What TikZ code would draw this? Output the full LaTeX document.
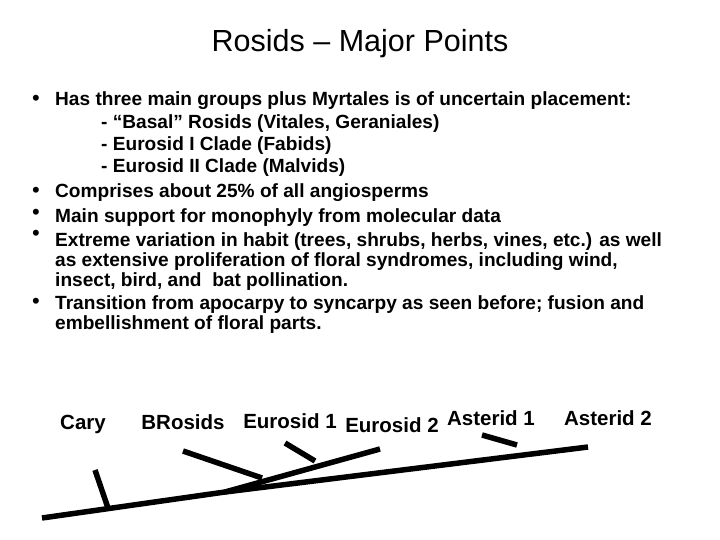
\documentclass[tikz,border=0pt]{standalone}
\usepackage{fontspec}
\setmainfont{Liberation Sans}
\begin{document}
\begin{tikzpicture}[x=1pt,y=-1pt,
  txt/.style={anchor=west,inner sep=0pt,font=\bfseries\fontsize{19.1}{22}\selectfont},
  bul/.style={anchor=center,inner sep=0pt,font=\fontsize{22}{24}\selectfont},
  lab/.style={anchor=center,inner sep=0pt,font=\bfseries\fontsize{20.5}{23}\selectfont},
  br/.style={line width=5.5pt}]
\useasboundingbox (0,0) rectangle (720,540);
\node[inner sep=0pt,font=\fontsize{30.5}{34}\selectfont] (title) at (360,44) {Rosids – Major Points};
\node[txt] (l1) at (55,101) {Has three main groups plus Myrtales is of uncertain placement:};
\node[txt] (l2) at (101,124) {- “Basal” Rosids (Vitales, Geraniales)};
\node[txt] (l3) at (101,146) {- Eurosid I Clade (Fabids)};
\node[txt] (l4) at (101,168) {- Eurosid II Clade (Malvids)};
\node[txt] (l5) at (55,193) {Comprises about 25\% of all angiosperms};
\node[txt] (l6) at (55,218) {Main support for monophyly from molecular data};
\node[txt] (l7) at (55,242) {Extreme variation in habit (trees, shrubs, herbs, vines, etc.) as well};
\node[txt] (l8) at (55,262) {as extensive proliferation of floral syndromes, including wind,};
\node[txt] (l9) at (55,282) {insect, bird, and\ \ bat pollination.};
\node[txt] (l10) at (55,305) {Transition from apocarpy to syncarpy as seen before; fusion and};
\node[txt] (l11) at (55,325) {embellishment of floral parts.};
\foreach \y/\n in {100/a,192/b,214/c,235/d,303/e} \node[bul] (b\n) at (36,\y) {•};
\node[lab] (cary) at (83,424) {Cary};
\node[lab] (bros) at (183,422) {BRosids};
\node[lab] (eu1) at (290,421) {Eurosid 1};
\node[lab] (eu2) at (392,425) {Eurosid 2};
\node[lab] (as1) at (491,418) {Asterid 1};
\node[lab] (as2) at (608,418) {Asterid 2};
\coordinate (root) at (42,518);
\coordinate (kink) at (225,492);
\coordinate (c0) at (108,508);
\coordinate (c1) at (95,470);
\coordinate (tipA2) at (588,447);
\coordinate (jA1) at (517,445);
\coordinate (tA1) at (482,435);
\coordinate (tE2) at (380,449);
\coordinate (jB) at (262,478);
\coordinate (tB) at (183,451);
\coordinate (jE1) at (315,461);
\coordinate (tE1) at (285,443);
\draw[br] (root) -- (kink) -- (tipA2);
\draw[br] (kink) -- (tE2);
\draw[br] (c0) -- (c1);
\draw[br] (jB) -- (tB);
\draw[br] (jE1) -- (tE1);
\draw[br] (jA1) -- (tA1);
\end{tikzpicture}
\end{document}
